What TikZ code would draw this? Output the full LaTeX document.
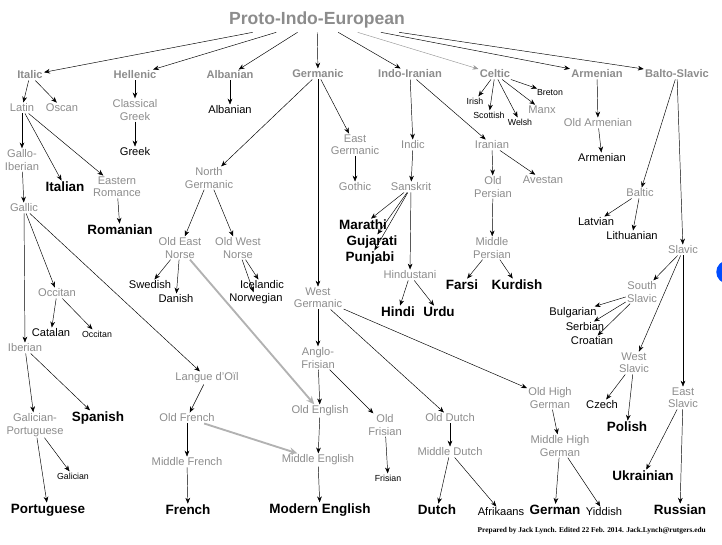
\documentclass[tikz,border=0pt]{standalone}
\usepackage{fontspec}
\setmainfont{Liberation Sans}
\newfontfamily\notefont{Liberation Serif}
\usetikzlibrary{arrows.meta}
\tikzset{
  anc/.style={text=black!45,font=\fontsize{9.5}{10.5}\selectfont,align=center,inner sep=1pt},
  lang/.style={text=black,font=\fontsize{9.5}{10.5}\selectfont,align=center,inner sep=1pt},
  tiny/.style={text=black,font=\fontsize{7.5}{8}\selectfont,inner sep=1pt},
  big/.style={text=black,font=\bfseries\fontsize{11.5}{13}\selectfont,align=center,inner sep=1pt},
  fam/.style={text=black!45,font=\bfseries\fontsize{9.5}{10.5}\selectfont,inner sep=1pt},
  arr/.style={-{Stealth[length=5pt,width=4pt]},thin},
  garr/.style={-{Stealth[length=7pt,width=6pt]},black!30,line width=1.6pt}
}
\begin{document}
\begin{tikzpicture}[x=0.03cm,y=-0.03cm]
  \useasboundingbox (0,0) rectangle (722,545);
  \node[text=black!45,font=\bfseries\fontsize{15}{16}\selectfont] (PIE) at (317,20) {Proto-Indo-European};

  % families
  \node[fam] (Ita) at (30,75) {Italic};
  \node[fam] (Hel) at (135,75) {Hellenic};
  \node[fam] (Alb) at (230,75) {Albanian};
  \node[fam] (Ger) at (318,74) {Germanic};
  \node[fam] (IIr) at (410,74) {Indo-Iranian};
  \node[fam] (Cel) at (495,74) {Celtic};
  \node[fam] (Arm) at (597,74) {Armenian};
  \node[fam] (BSl) at (677,74) {Balto-Slavic};

  % italic
  \node[anc] (Lat) at (22,108) {Latin};
  \node[anc] (Osc) at (62,108) {Oscan};
  \node[anc] (GIb) at (22,160) {Gallo-\\Iberian};
  \node[big] (Itn) at (65,187) {Italian};
  \node[anc] (ERo) at (117,187) {Eastern\\Romance};
  \node[big] (Rom) at (120,230) {Romanian};
  \node[anc] (Gal) at (24,208) {Gallic};
  \node[anc] (Occ) at (57,293) {Occitan};
  \node[anc] (Ibe) at (25,348) {Iberian};
  \node[anc] (LOi) at (207,378) {Langue d'Oïl};
  \node[lang] (Cat) at (51,333) {Catalan};
  \node[tiny] (Occ2) at (97,334) {Occitan};
  \node[anc] (GPo) at (35,425) {Galician-\\Portuguese};
  \node[big] (Spa) at (98,418) {Spanish};
  \node[tiny] (Glc) at (73,476) {Galician};
  \node[big] (Por) at (48,510) {Portuguese};
  \node[anc] (OFr) at (187,418) {Old French};
  \node[anc] (MFr) at (187,462) {Middle French};
  \node[big] (Fre) at (188,510) {French};

  % hellenic, albanian
  \node[anc] (CGr) at (135,110) {Classical\\Greek};
  \node[lang] (Gre) at (135,152) {Greek};
  \node[lang] (Alb2) at (230,110) {Albanian};

  % germanic
  \node[anc] (NGe) at (209,178) {North\\Germanic};
  \node[anc] (EGe) at (355,145) {East\\Germanic};
  \node[anc] (WGe) at (318,298) {West\\Germanic};
  \node[anc] (Got) at (355,187) {Gothic};
  \node[anc] (OEN) at (180,248) {Old East\\Norse};
  \node[anc] (OWN) at (238,248) {Old West\\Norse};
  \node[lang] (Swe) at (150,285) {Swedish};
  \node[lang] (Dan) at (176,299) {Danish};
  \node[lang] (Ice) at (262,285) {Icelandic};
  \node[lang] (Nor) at (256,299) {Norwegian};
  \node[anc] (AFr) at (318,358) {Anglo-\\Frisian};
  \node[anc] (OEn) at (320,411) {Old English};
  \node[anc] (OFs) at (385,425) {Old\\Frisian};
  \node[anc] (MEn) at (318,460) {Middle English};
  \node[big] (MoE) at (320,510) {Modern English};
  \node[tiny] (Fri) at (388,478) {Frisian};
  \node[anc] (ODu) at (450,418) {Old Dutch};
  \node[anc] (MDu) at (450,452) {Middle Dutch};
  \node[big] (Dut) at (437,510) {Dutch};
  \node[lang] (Afr) at (501,512) {Afrikaans};
  \node[anc] (OHG) at (550,398) {Old High\\German};
  \node[anc] (MHG) at (560,446) {Middle High\\German};
  \node[big] (Deu) at (555,510) {German};
  \node[lang] (Yid) at (604,512) {Yiddish};

  % indo-iranian
  \node[anc] (Ind) at (413,145) {Indic};
  \node[anc] (Irn) at (492,145) {Iranian};
  \node[anc] (San) at (411,187) {Sanskrit};
  \node[big] (Mar) at (363,225) {Marathi};
  \node[big] (Guj) at (372,242) {Gujarati};
  \node[big] (Pun) at (370,258) {Punjabi};
  \node[anc] (Hnd) at (410,275) {Hindustani};
  \node[big] (Hin) at (398,312) {Hindi};
  \node[big] (Urd) at (439,312) {Urdu};
  \node[anc] (OPe) at (493,187) {Old\\Persian};
  \node[anc] (Ave) at (543,180) {Avestan};
  \node[anc] (MPe) at (492,248) {Middle\\Persian};
  \node[big] (Far) at (462,285) {Farsi};
  \node[big] (Kur) at (517,285) {Kurdish};

  % celtic
  \node[tiny] (Iri) at (475,101) {Irish};
  \node[tiny] (Bre) at (550,93) {Breton};
  \node[anc] (Man) at (542,110) {Manx};
  \node[tiny] (Sco) at (489,115) {Scottish};
  \node[tiny] (Wel) at (520,122) {Welsh};

  % armenian, balto-slavic
  \node[anc] (OAr) at (598,123) {Old Armenian};
  \node[lang] (Arm2) at (602,158) {Armenian};
  \node[anc] (Bal) at (640,193) {Baltic};
  \node[anc] (Sla) at (683,250) {Slavic};
  \node[lang] (Lav) at (596,222) {Latvian};
  \node[lang] (Lit) at (632,236) {Lithuanian};
  \node[anc] (SSl) at (642,292) {South\\Slavic};
  \node[anc] (WSl) at (634,363) {West\\Slavic};
  \node[anc] (ESl) at (683,398) {East\\Slavic};
  \node[lang] (Bul) at (573,313) {Bulgarian};
  \node[lang] (Ser) at (585,327) {Serbian};
  \node[lang] (Cro) at (592,341) {Croatian};
  \node[lang] (Cze) at (602,405) {Czech};
  \node[big] (Pol) at (627,427) {Polish};
  \node[big] (Ukr) at (643,476) {Ukrainian};
  \node[big] (Rus) at (680,510) {Russian};

  \node[anchor=east,font=\notefont\bfseries\fontsize{6.3}{7}\selectfont,inner sep=0pt] (Note) at (706,531)
    {Prepared by Jack Lynch. Edited 22 Feb. 2014. Jack.Lynch@rutgers.edu};
  \node[circle,fill=blue!70!cyan,minimum size=20pt,inner sep=0pt] (Dot) at (728,272) {};

  \foreach \s/\t in {PIE/Ita,PIE/Hel,PIE/Alb,PIE/Ger,PIE/IIr,PIE/Arm,PIE/BSl,
    Ita/Lat,Ita/Osc,Lat/GIb,Lat/Itn,Lat/ERo,ERo/Rom,GIb/Gal,Gal/Occ,Gal/Ibe,Gal/LOi,
    Occ/Cat,Occ/Occ2,Ibe/GPo,Ibe/Spa,GPo/Glc,GPo/Por,LOi/OFr,OFr/MFr,MFr/Fre,
    Hel/CGr,CGr/Gre,Alb/Alb2,Ger/NGe,Ger/EGe,Ger/WGe,EGe/Got,NGe/OEN,NGe/OWN,
    OEN/Swe,OEN/Dan,OWN/Ice,OWN/Nor,WGe/AFr,WGe/ODu,WGe/OHG,AFr/OEn,AFr/OFs,
    OEn/MEn,MEn/MoE,OFs/Fri,ODu/MDu,MDu/Dut,MDu/Afr,OHG/MHG,MHG/Deu,MHG/Yid,
    IIr/Ind,IIr/Irn,Ind/San,San/Mar,San/Guj,San/Pun,San/Hnd,Hnd/Hin,Hnd/Urd,
    Irn/OPe,Irn/Ave,OPe/MPe,MPe/Far,MPe/Kur,Cel/Iri,Cel/Bre,Cel/Man,Cel/Sco,Cel/Wel,
    Arm/OAr,OAr/Arm2,BSl/Bal,BSl/Sla,Bal/Lav,Bal/Lit,Sla/SSl,Sla/WSl,Sla/ESl,
    SSl/Bul,SSl/Ser,SSl/Cro,WSl/Cze,WSl/Pol,ESl/Ukr,ESl/Rus}
    \draw[arr] (\s) -- (\t);
  \draw[arr,black!40] (PIE) -- (Cel);

  \draw[garr] (OEN) -- (OEn);
  \draw[garr] (OFr) -- (MEn);
\end{tikzpicture}
\end{document}
